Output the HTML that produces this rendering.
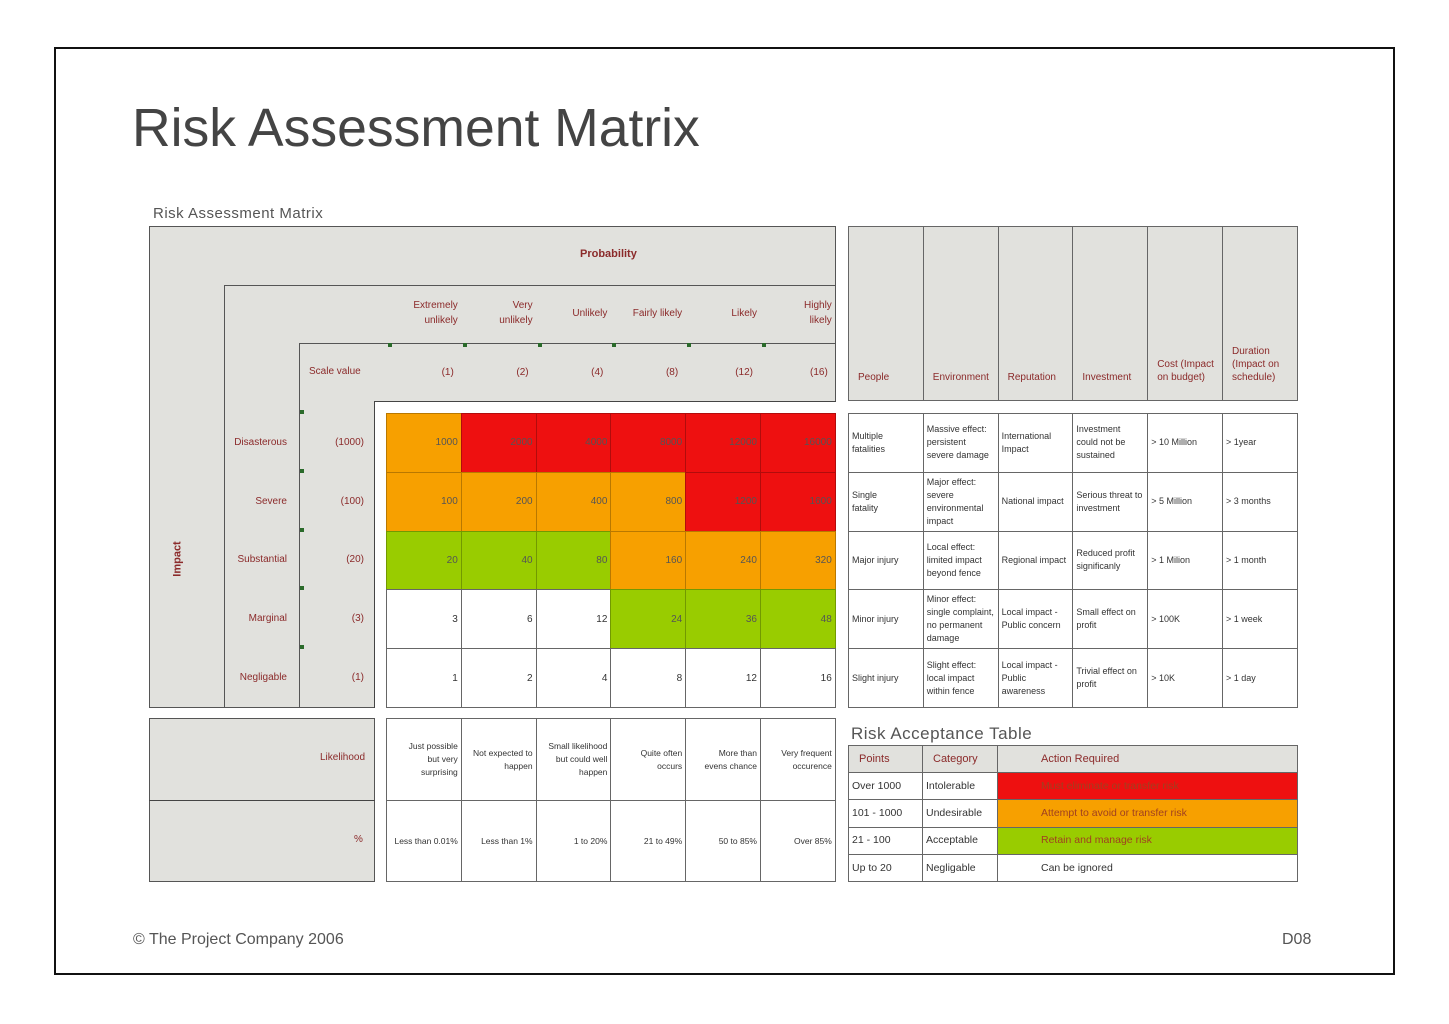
<!DOCTYPE html>
<html><head><meta charset="utf-8"><style>
body{margin:0;width:1449px;height:1024px;background:#fff;position:relative;overflow:hidden;font-family:"Liberation Sans",sans-serif;}
.a{position:absolute;box-sizing:border-box;}
.g{background:#e1e1dd;}
.t{position:absolute;font-size:10px;color:#8b2a2a;white-space:nowrap;}
.b{border:1px solid #555;}
.c{position:absolute;box-sizing:border-box;border:1px solid #666;font-size:9px;color:#333;line-height:13px;padding:0 3px;display:flex;align-items:center;}
.r{justify-content:flex-end;text-align:right;}
</style></head><body>
<div class="a" style="left:54px;top:47px;width:1341px;height:928px;border:2px solid #111;"></div>
<div class="a" style="left:132px;top:98px;font-size:53.5px;color:#444;">Risk Assessment Matrix</div>
<div class="a" style="left:153px;top:205px;font-size:15px;color:#555;letter-spacing:0.5px;">Risk Assessment Matrix</div>

<div class="a g b" style="left:149px;top:226px;width:687px;height:482px;"></div>
<div class="a b" style="left:224px;top:285px;width:612px;height:423px;border-right:none;border-bottom:none;"></div>
<div class="a b" style="left:299px;top:343px;width:537px;height:365px;border-right:none;border-bottom:none;"></div>
<div class="a" style="left:374px;top:401px;width:462px;height:307px;background:#fff;border-top:1px solid #444;border-left:1px solid #444;"></div>
<div class="t" style="left:580px;top:248px;font-weight:bold;font-size:11px;">Probability</div>
<div class="t" style="left:160px;top:553px;font-weight:bold;font-size:11px;transform:rotate(-90deg);">Impact</div>
<div class="t" style="left:309px;top:366px;">Scale value</div>

<div class="a g b" style="left:149px;top:718px;width:226px;height:164px;"></div>
<div class="a" style="left:149px;top:800px;width:226px;height:1px;background:#444;"></div>
<div class="t" style="left:320px;top:752px;">Likelihood</div>
<div class="t" style="left:354px;top:834px;">%</div>

<div id="root"></div>

<div class="a" style="left:851px;top:724px;font-size:17px;color:#555;letter-spacing:0.5px;">Risk Acceptance Table</div>

<div class="a" style="left:133px;top:931px;font-size:16px;color:#555;">© The Project Company 2006</div>
<div class="a" style="left:1282px;top:931px;font-size:16px;color:#555;">D08</div>

<script>
const probLabels=["Extremely unlikely","Very unlikely","Unlikely","Fairly likely","Likely","Highly likely"];
const probScale=[1,2,4,8,12,16];
const impactLabels=["Disasterous","Severe","Substantial","Marginal","Negligable"];
const impactScale=[1000,100,20,3,1];
const cellColors=[["o","r","r","r","r","r"],["o","o","o","o","r","r"],["g","g","g","o","o","o"],["w","w","w","g","g","g"],["w","w","w","w","w","w"]];
const likelihoodText=["Just possible but very surprising","Not expected to happen","Small likelihood but could well happen","Quite often occurs","More than evens chance","Very frequent occurence"];
const percentText=["Less than 0.01%","Less than 1%","1 to 20%","21 to 49%","50 to 85%","Over 85%"];
const consHeaders=["People","Environment","Reputation","Investment","Cost (Impact on budget)","Duration (Impact on schedule)"];
const consRows=[["Multiple fatalities","Massive effect: persistent severe damage","International Impact","Investment could not be sustained","> 10 Million","> 1year"],
["Single fatality","Major effect: severe environmental impact","National impact","Serious threat to investment","> 5 Million","> 3 months"],
["Major injury","Local effect: limited impact beyond fence","Regional impact","Reduced profit significanly","> 1 Milion","> 1 month"],
["Minor injury","Minor effect: single complaint, no permanent damage","Local impact - Public concern","Small effect on profit","> 100K","> 1 week"],
["Slight injury","Slight effect: local impact within fence","Local impact - Public awareness","Trivial effect on profit","> 10K","> 1 day"]];
const accPoints=["Over 1000","101 - 1000","21 - 100","Up to 20"];
const accCategory=["Intolerable","Undesirable","Acceptable","Negligable"];
const accAction=["Must eliminate or transfer risk","Attempt to avoid or transfer risk","Retain and manage risk","Can be ignored"];
const accColor=["r","o","g","w"];
const COL={o:"#f7a000",r:"#ee1010",g:"#99cc00",w:"#fff"};
const root=document.getElementById('root');
const X0=386,CW=74.8,Y0=413,RH=58.8;
const colX=i=>X0+i*CW, rowY=j=>Y0+j*RH;
function mk(cls,l,t,w,h,txt){const d=document.createElement('div');d.className=cls;d.style.left=l+'px';d.style.top=t+'px';if(w!=null){d.style.width=w+'px';d.style.height=h+'px';}if(txt!=null)d.textContent=txt;root.appendChild(d);return d;}
probLabels.forEach((p,i)=>{
 const d=mk('c r',colX(i)+CW-58,293,58,40,p);d.style.border='none';d.style.color='#8b2a2a';d.style.fontSize='10px';d.style.lineHeight='15px';
 
 
 const s=mk('c r',colX(i),362,CW-4,20,'('+probScale[i]+')');s.style.border='none';s.style.color='#8b2a2a';s.style.fontSize='10px';
 
 
 const tk=mk('a',colX(i)+2,343,4,4);tk.style.background='#2a6a2a';
 
 
});
impactLabels.forEach((lab,j)=>{
 const d=mk('c r',226,rowY(j),64,RH,lab);d.style.border='none';d.style.color='#8b2a2a';d.style.fontSize='10px';
 
 
 const s=mk('c r',300,rowY(j),67,RH,'('+impactScale[j]+')');s.style.border='none';s.style.color='#8b2a2a';s.style.fontSize='10px';
 
 
 const tk=mk('a',300,rowY(j)-3,4,4);tk.style.background='#2a6a2a';
 
 
 probScale.forEach((p,i)=>{
  const c=cellColors[j][i];
  const d=mk('c r',colX(i),rowY(j),CW+1,RH+1,String(impactScale[j]*p));
  d.style.background=COL[c];d.style.fontSize='10px';d.style.color=c=='w'?'#333':'#555';
  if(c!='w')d.style.borderColor='rgba(0,0,0,0.25)';
  
  
 });
 consRows[j].forEach((t,i)=>{
  const d=mk('c',848+i*74.8,rowY(j),75.8,RH+1,t);
  if(i==0)d.style.paddingRight='22px';
  
  
 });
});
consHeaders.forEach((h,i)=>{
 const d=mk('c',848+i*74.8,226,75.8,175,h);d.style.background='#e1e1dd';d.style.color='#8b2a2a';d.style.fontSize='10px';d.style.alignItems='flex-end';d.style.paddingBottom='16px';d.style.paddingLeft='9px';
 
 
});
likelihoodText.forEach((t,i)=>{
 const d=mk('c r',colX(i),718,CW+1,83,t);d.style.fontSize='8.5px';d.style.paddingLeft='10px';
 
 
 const p=mk('c r',colX(i),800,CW+1,82,percentText[i]);p.style.fontSize='8.5px';
 
 
});
const aw=[74,75,300],ax=[848,922,997];
["Points","Category","Action Required"].forEach((h,i)=>{
 const d=mk('c',ax[i],745,aw[i]+1,28,h);d.style.background='#e1e1dd';d.style.color='#8b2a2a';d.style.fontSize='11px';d.style.paddingLeft=i==2?'43px':'10px';
 
 
});
accPoints.forEach((p,j)=>{
 const y=772+j*27.3;
 [p,accCategory[j],accAction[j]].forEach((t,i)=>{
  const d=mk('c',ax[i],y,aw[i]+1,28.3,t);d.style.fontSize='10.5px';
  if(i==2){d.style.background=COL[accColor[j]];d.style.paddingLeft='43px';d.style.color=accColor[j]=='w'?'#333':'#a04020';}
  
  
 });
});
</script>
</body></html>
